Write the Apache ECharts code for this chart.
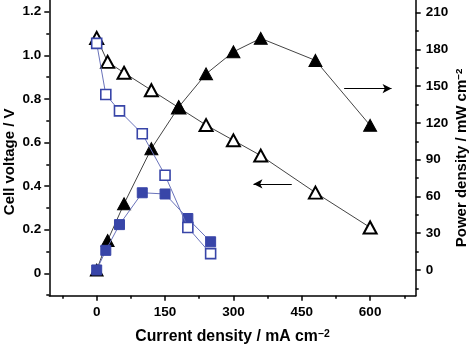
<!DOCTYPE html>
<html><head><meta charset="utf-8">
<script src="https://cdn.jsdelivr.net/npm/echarts@6/dist/echarts.min.js"></script>
<style>html,body{margin:0;padding:0;background:#fff}#c{width:474px;height:347px}</style>
</head><body><div id="c"></div>
<script>
// Cell A (triangles)
const currentA = [0, 24, 60, 120, 180, 240, 300, 360, 480, 600];
const voltageA = [1.08, 0.97, 0.92, 0.84, 0.76, 0.68, 0.61, 0.54, 0.37, 0.21];
const powerA   = [0, 24, 54, 99, 133, 160, 178, 189, 171, 118];
// Cell B (squares)
const currentB = [0, 20, 50, 100, 150, 200, 250];
const voltageB = [1.055, 0.82, 0.745, 0.64, 0.45, 0.21, 0.09];
const powerB   = [0, 16, 37, 63, 62, 42, 23];
// Tick values
const xMajor = [0, 150, 300, 450, 600];
const xMinor = [-75, 75, 225, 375, 525, 675];
const leftMajor = [0, 0.2, 0.4, 0.6, 0.8, 1.0, 1.2];
const leftMinor = [-0.1, 0.1, 0.3, 0.5, 0.7, 0.9, 1.1];
const rightMajor = [0, 30, 60, 90, 120, 150, 180, 210];
const rightMinor = [-15, 15, 45, 75, 105, 135, 165, 195];
// Annotation arrows (data space)
const arrowPower = [[543, 148], [647, 148]];
const arrowVoltage = [[428, 0.41], [344, 0.41]];

const FONT = 'Liberation Sans, Arial, sans-serif';
const X = {min: -104, max: 700};
const L = {min: -0.103, max: 1.254};
const R = {min: -21, max: 220.3};
const blue = '#3845a8';
const labelStyle = {fontSize: 13.5, fontWeight: 'bold', color: '#000', fontFamily: FONT};
function nameStyle(size, padding) {
  return {fontSize: size, fontWeight: 'bold', color: '#000', fontFamily: FONT, padding: padding,
    rich: {sup: {fontSize: size * 0.66, fontWeight: 'bold', fontFamily: FONT, color: '#000', verticalAlign: 'top'}}};
}
const axisLine = {onZero: false, lineStyle: {color: '#000', width: 1.5}};

function minorAxis(base, vals, pos) {
  return Object.assign({type: 'value', position: pos, splitLine: {show: false},
    axisLine: {show: false, onZero: false}, axisLabel: {show: false},
    axisTick: {show: true, customValues: vals, length: 3, lineStyle: {color: '#000', width: 1.5}}}, base);
}

const chart = echarts.init(document.getElementById('c'), null, {renderer: 'canvas'});
chart.setOption({
  animation: false,
  backgroundColor: '#fff',
  grid: {left: 49.3, right: 58.3, top: 0, bottom: 51.3, containLabel: false, outerBoundsMode: 'none'},
  xAxis: [
    {type: 'value', position: 'bottom', min: X.min, max: X.max, splitLine: {show: false},
     axisLine: axisLine,
     axisTick: {customValues: xMajor, length: 5, lineStyle: {color: '#000', width: 1.5}},
     axisLabel: Object.assign({customValues: xMajor, margin: 10}, labelStyle),
     name: 'Current density / mA cm{sup|−2}', nameLocation: 'middle', nameGap: 33, nameMoveOverlap: false,
     nameTextStyle: nameStyle(15.8, [0, 0, 0, 0])},
    minorAxis({min: X.min, max: X.max}, xMinor, 'bottom')
  ],
  yAxis: [
    {type: 'value', position: 'left', min: L.min, max: L.max, splitLine: {show: false},
     axisLine: axisLine,
     axisTick: {customValues: leftMajor, length: 5, lineStyle: {color: '#000', width: 1.5}},
     axisLabel: Object.assign({customValues: leftMajor, margin: 8,
       formatter: v => v === 0 ? '0' : v.toFixed(1)}, labelStyle),
     name: 'Cell voltage / V', nameLocation: 'middle', nameGap: 32, nameMoveOverlap: false,
     nameTextStyle: nameStyle(15, [0, 28, 0, 0])},
    {type: 'value', position: 'right', min: R.min, max: R.max, splitLine: {show: false},
     axisLine: axisLine,
     axisTick: {customValues: rightMajor, length: 5, lineStyle: {color: '#000', width: 1.5}},
     axisLabel: Object.assign({customValues: rightMajor, margin: 10}, labelStyle),
     name: 'Power density / mW cm{sup|−2}', nameLocation: 'middle', nameGap: 39, nameMoveOverlap: false,
     nameTextStyle: nameStyle(15, [0, 20, 0, 0])},
    minorAxis({min: L.min, max: L.max}, leftMinor, 'left'),
    minorAxis({min: R.min, max: R.max}, rightMinor, 'right')
  ],
  series: [
    {type: 'line', xAxisIndex: 0, yAxisIndex: 0, z: 2,
     data: currentA.map((x, i) => [x, voltageA[i]]),
     symbol: 'triangle', symbolSize: [13, 12], showAllSymbol: true,
     itemStyle: {color: '#fff', borderColor: '#000', borderWidth: 2},
     lineStyle: {color: '#444', width: 1},
     markLine: {silent: true, symbol: ['none', 'arrow'], symbolSize: [7, 9], label: {show: false},
       lineStyle: {color: '#000', width: 1, type: 'solid'},
       data: [[{coord: arrowVoltage[0]}, {coord: arrowVoltage[1]}]]}},
    {type: 'line', xAxisIndex: 0, yAxisIndex: 1, z: 3,
     data: currentA.map((x, i) => [x, powerA[i]]),
     symbol: 'triangle', symbolSize: [13, 12], showAllSymbol: true,
     itemStyle: {color: '#000', borderColor: '#000', borderWidth: 1},
     lineStyle: {color: '#444', width: 1},
     markLine: {silent: true, symbol: ['none', 'arrow'], symbolSize: [7, 9], label: {show: false},
       lineStyle: {color: '#000', width: 1, type: 'solid'},
       data: [[{coord: arrowPower[0]}, {coord: arrowPower[1]}]]}},
    {type: 'line', xAxisIndex: 0, yAxisIndex: 1, z: 4,
     data: currentB.map((x, i) => [x, powerB[i]]),
     symbol: 'rect', symbolSize: 10, showAllSymbol: true,
     itemStyle: {color: blue, borderColor: blue, borderWidth: 1},
     lineStyle: {color: '#6a73bb', width: 1}},
    {type: 'line', xAxisIndex: 0, yAxisIndex: 0, z: 5,
     data: currentB.map((x, i) => [x, voltageB[i]]),
     symbol: 'rect', symbolSize: 10, showAllSymbol: true,
     itemStyle: {color: '#fff', borderColor: blue, borderWidth: 1.6},
     lineStyle: {color: '#6a73bb', width: 1}}
  ]
});
</script></body></html>
